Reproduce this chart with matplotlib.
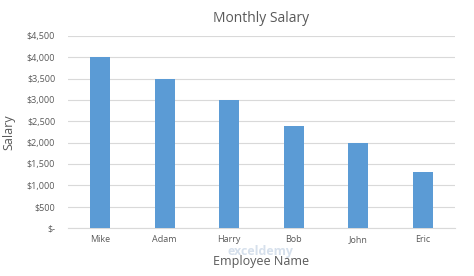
import matplotlib.pyplot as plt

# dane z wykresu
imiona = ["Mike", "Adam", "Harry", "Bob", "John", "Eric"]
pensje = [4000, 3500, 3000, 2400, 2000, 1300]
ticki_y = [0, 500, 1000, 1500, 2000, 2500, 3000, 3500, 4000, 4500]
etykiety_y = ["$-", "$500", "$1,000", "$1,500", "$2,000", "$2,500",
              "$3,000", "$3,500", "$4,000", "$4,500"]

plt.rcParams['font.family'] = ['Open Sans', 'DejaVu Sans']

fig = plt.figure(figsize=(4.74, 2.76), dpi=100)
ax = fig.add_axes([0.143, 0.174, 0.817, 0.696])

ax.bar(range(len(imiona)), pensje, width=0.31, color='#5B9BD5', zorder=3)

ax.set_xlim(-0.5, len(imiona) - 0.5)
ax.set_ylim(0, 4500)
ax.set_yticks(ticki_y)
ax.set_yticklabels(etykiety_y)
ax.set_xticks(range(len(imiona)))
ax.set_xticklabels(imiona)
ax.tick_params(axis='both', length=0, labelsize=6.5, labelcolor='#595959')
ax.tick_params(axis='y', pad=9)
ax.tick_params(axis='x', pad=5)

ax.grid(axis='y', color='#D9D9D9', linewidth=0.8, zorder=0)
for s in ['top', 'right', 'left']:
    ax.spines[s].set_visible(False)
ax.spines['bottom'].set_color('#D9D9D9')

ax.set_title("Monthly Salary", fontsize=10, color='#595959', pad=10)
ax.set_ylabel("Salary", fontsize=9, color='#595959', labelpad=8)
ax.set_xlabel("Employee Name", fontsize=9, color='#595959', labelpad=8)

# znak wodny
fig.text(0.55, 0.087, "exceldemy", fontsize=9, color='#C5D3E4', alpha=0.7,
         ha='center', va='center', fontweight='bold', zorder=0)

fig.savefig("out.png", dpi=100)
